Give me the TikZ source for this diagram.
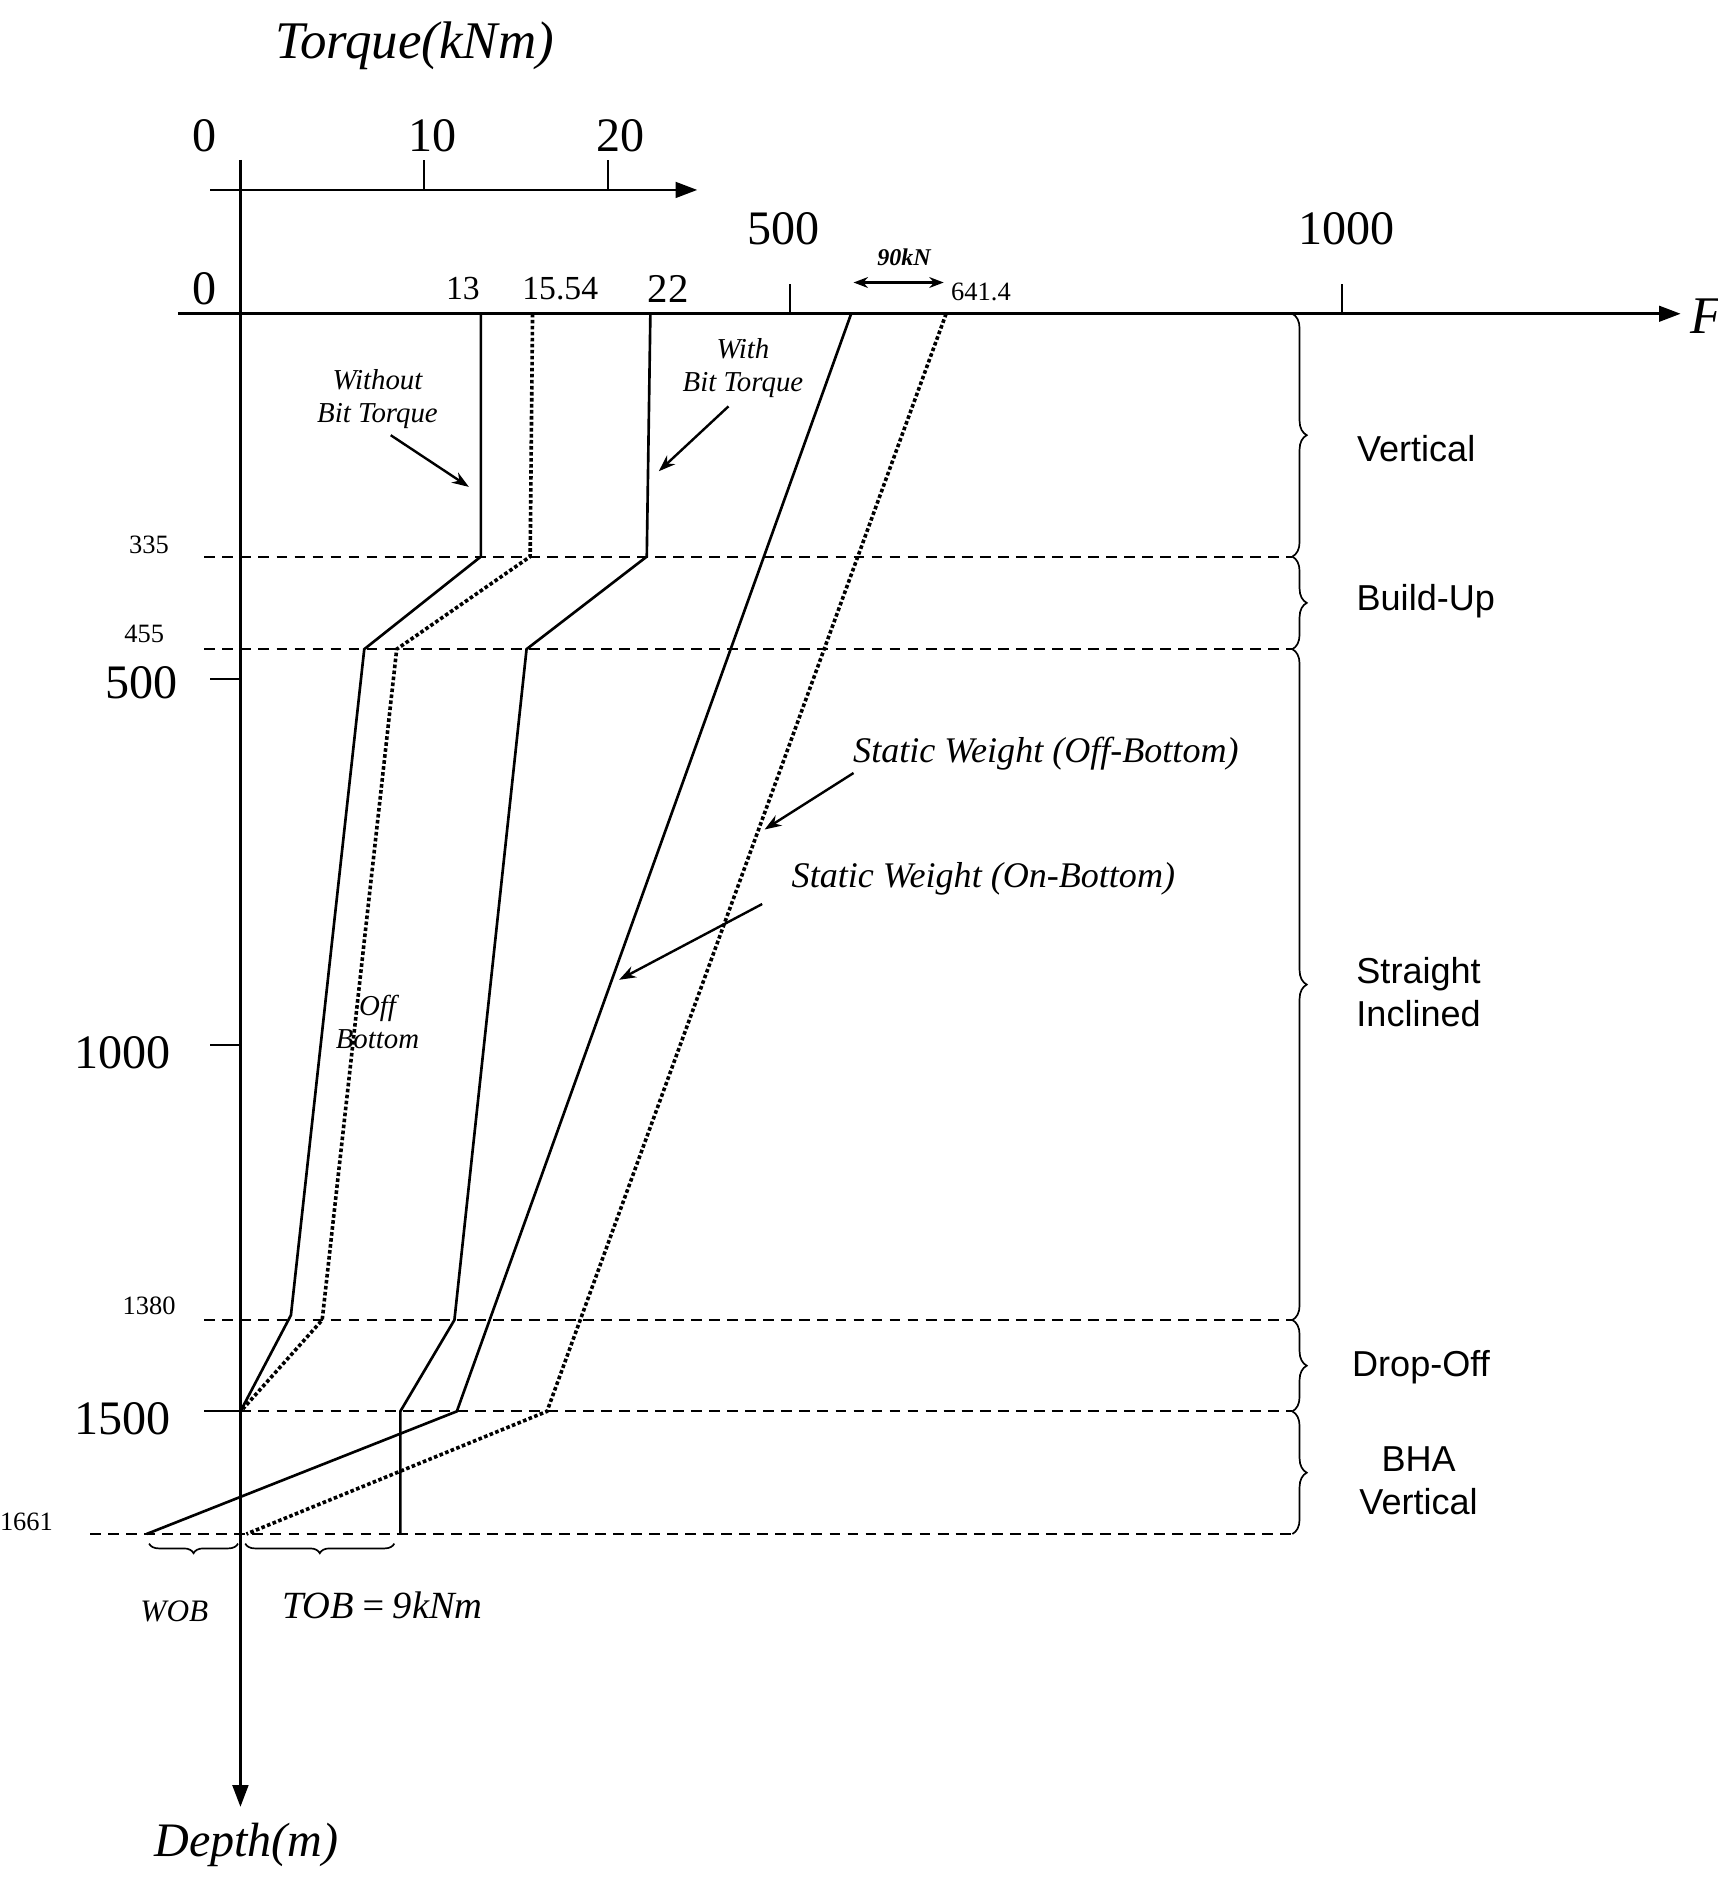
\documentclass[tikz,border=0pt]{standalone}
\usepackage{fontspec}
\setmainfont{Liberation Serif}
\newfontfamily\sanf{Liberation Sans}
\usetikzlibrary{arrows.meta,decorations.pathreplacing}
\begin{document}
\begin{tikzpicture}[x=1pt,y=-1pt,
  ax/.style={line width=2.2pt,-{Triangle[length=18pt,width=13pt]}},
  curve/.style={line width=2.2pt},
  dotc/.style={line width=3pt,dotted},
  dashline/.style={line width=1.6pt,dash pattern=on 9pt off 6pt},
  big/.style={font=\fontsize{40}{44}\selectfont},
  small/.style={font=\fontsize{22}{24}\selectfont},
  lab/.style={font=\itshape\fontsize{24}{27}\selectfont,align=center},
  sec/.style={font=\sanf\fontsize{30}{36}\selectfont,align=center},
  ann/.style={line width=2pt,-{Stealth[length=14pt,width=10pt]}},
  brc/.style={decorate,decoration={brace,amplitude=12pt},line width=1.4pt}]
\useasboundingbox (0,0) rectangle (1429,1568);
\coordinate (tq0) at (175,158); \coordinate (tq1) at (580,158);
\coordinate (fx0) at (148,261); \coordinate (fx1) at (1398,261);
\coordinate (dy0) at (200,133); \coordinate (dy1) at (200,1503);
\draw[ax] (tq0) -- (tq1);
\draw[ax] (fx0) -- (fx1);
\draw[ax] (dy0) -- (dy1);
\draw[line width=1.6pt] (353,158) -- (353,133) (506,158) -- (506,133);
\draw[line width=1.6pt] (657,261) -- (657,236) (1116,261) -- (1116,236);
\draw[line width=1.6pt] (175,565) -- (200,565) (175,869) -- (200,869) (175,1174) -- (200,1174);
\node[font=\itshape\fontsize{44}{48}\selectfont] (tqt) at (345,38) {Torque(kNm)};
\node[big] (t0) at (170,113) {0};
\node[big] (t10) at (360,113) {10};
\node[big] (t20) at (516,113) {20};
\node[big] (f500) at (652,190) {500};
\node[big] (f1000) at (1120,190) {1000};
\node[big] (f0) at (170,240) {0};
\node[font=\itshape\fontsize{44}{48}\selectfont,anchor=west] (fl) at (1403,263) {F};
\node[font=\itshape\fontsize{40}{44}\selectfont] (dt) at (205,1535) {Depth(m)};
\node[big] (d500) at (118,568) {500};
\node[big] (d1000) at (102,876) {1000};
\node[big] (d1500) at (102,1180) {1500};
\node[small] (d335) at (124,453) {335};
\node[small] (d455) at (120,527) {455};
\node[small] (d1380) at (124,1086) {1380};
\node[small] (d1661) at (22,1266) {1661};
\node[font=\fontsize{28}{30}\selectfont] (v13) at (385,240) {13};
\node[font=\fontsize{28}{30}\selectfont] (v1554) at (466,240) {15.54};
\node[font=\fontsize{34}{36}\selectfont] (v22) at (556,240) {22};
\node[small] (v641) at (816,243) {641.4};
\draw[dashline] (170,463) -- (1075,463);
\draw[dashline] (170,540) -- (1075,540);
\draw[dashline] (170,1098) -- (1075,1098);
\draw[dashline] (170,1174) -- (1075,1174);
\draw[dashline] (75,1276) -- (1075,1276);
\draw[curve] (400,261) -- (400,463) -- (303,540) -- (242,1094) -- (200,1174);
\draw[dotc] (443,261) -- (441,463) -- (330,540) -- (268,1098) -- (202,1172);
\draw[curve] (541,261) -- (538,463) -- (438,540) -- (378,1098) -- (333,1174) -- (333,1276);
\draw[curve] (708,261) -- (380,1174) -- (122,1276);
\draw[dotc] (787,261) -- (455,1174) -- (205,1276);
\coordinate (k1) at (710,235); \coordinate (k2) at (785,235);
\draw[line width=2pt,{Stealth[length=12pt]}-{Stealth[length=12pt]}] (k1) -- (k2);
\node[font=\bfseries\itshape\fontsize{20}{22}\selectfont] (k90) at (752,214) {90kN};
\node[lab] (wob1) at (314,332) {Without\\Bit Torque};
\draw[ann] (325,362) -- (390,405);
\node[lab] (wb) at (618,306) {With\\Bit Torque};
\draw[ann] (606,338) -- (548,392);
\node[lab,font=\itshape\fontsize{30}{34}\selectfont] (swo) at (870,627) {Static Weight (Off-Bottom)};
\draw[ann] (710,643) -- (636,690);
\node[lab,font=\itshape\fontsize{30}{34}\selectfont] (swn) at (818,731) {Static Weight (On-Bottom)};
\draw[ann] (634,752) -- (515,815);
\node[lab] (offb) at (314,850) {Off\\Bottom};
\draw[brc] (1075,261) -- (1075,463);
\draw[brc] (1075,463) -- (1075,540);
\draw[brc] (1075,540) -- (1075,1098);
\draw[brc] (1075,1098) -- (1075,1174);
\draw[brc] (1075,1174) -- (1075,1276);
\node[sec] (s1) at (1178,373) {Vertical};
\node[sec] (s2) at (1186,500) {Build-Up};
\node[sec] (s3) at (1180,825) {Straight\\Inclined};
\node[sec] (s4) at (1182,1137) {Drop-Off};
\node[sec] (s5) at (1180,1232) {BHA\\Vertical};
\draw[brc,decoration={brace,mirror,amplitude=8pt}] (124,1284) -- (198,1284);
\draw[brc,decoration={brace,mirror,amplitude=8pt}] (204,1284) -- (328,1284);
\node[font=\itshape\fontsize{26}{28}\selectfont] (wob) at (145,1340) {WOB};
\node[font=\itshape\fontsize{32}{34}\selectfont] (tob) at (318,1335) {TOB\,=\,9kNm};
\end{tikzpicture}
\end{document}
